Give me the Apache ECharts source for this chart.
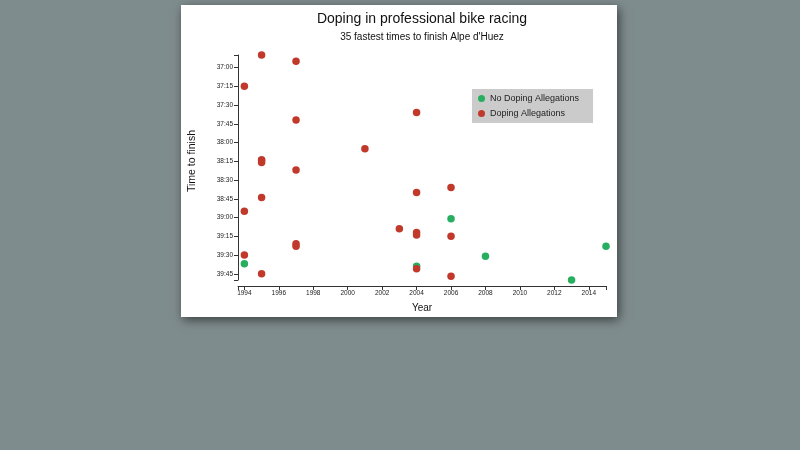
<!DOCTYPE html>
<html>
<head>
<meta charset="utf-8">
<title>Doping in professional bike racing</title>
<script src="https://cdn.jsdelivr.net/npm/echarts@6/dist/echarts.min.js"></script>
<style>
    html, body {
        margin: 0;
        padding: 0;
        width: 800px;
        height: 450px;
        background: #7f8c8d;
        overflow: hidden;
    }
    #card {
        position: absolute;
        left: 181px;
        top: 5px;
        width: 436px;
        height: 312px;
        background: #fff;
        box-shadow: 2px 3px 10px rgba(0, 0, 0, 0.55);
    }
</style>
</head>
<body>
<div id="card"></div>

<script>
// Data
// ------------------------------

// Riders without doping allegations
var cleanYears   = [2006, 2015, 2008, 1994, 2004, 2013];
var cleanSeconds = [2341, 2363, 2371, 2377, 2379, 2390];

// Riders with doping allegations
var dopedYears   = [1995, 1997, 1994, 2004, 1997, 2001, 1995, 1995, 1995, 1997,
                    2006, 2004, 1995, 1994, 2003, 2004, 2004, 2006, 1997, 1997,
                    1994, 2004, 1995, 2006];
var dopedSeconds = [2210, 2215, 2235, 2256, 2262, 2285, 2294, 2294, 2296, 2302,
                    2316, 2320, 2324, 2335, 2349, 2352, 2354, 2355, 2361, 2363,
                    2370, 2381, 2385, 2387];

// Axis ticks
var yearTicks = [1994, 1996, 1998, 2000, 2002, 2004, 2006, 2008, 2010, 2012, 2014];
var timeTicks = [2220, 2235, 2250, 2265, 2280, 2295, 2310, 2325, 2340, 2355, 2370, 2385];

var seriesNames = ['No Doping Allegations', 'Doping Allegations'];


// Helpers
// ------------------------------

var pair = function(xs, ys) {
    return xs.map(function(x, i) { return [x, ys[i]]; });
};

var toClock = function(s) {
    var m = Math.floor(s / 60);
    var sec = s % 60;
    return m + ':' + (sec < 10 ? '0' : '') + sec;
};

var font = 'Liberation Sans, Arial, sans-serif';


// Chart options
// ------------------------------

var option = {

    animation: false,
    color: ['#27ae60', '#c0392b'],

    textStyle: {
        fontFamily: font
    },

    // Plot area
    grid: {
        left: 57,
        right: 11,
        top: 50,
        bottom: 37
    },

    // Titles and axis names
    graphic: [
        {
            type: 'text', x: 241, y: 14,
            style: { text: 'Doping in professional bike racing', font: '14px ' + font, fill: '#111', textAlign: 'center', textVerticalAlign: 'middle' }
        },
        {
            type: 'text', x: 241, y: 32,
            style: { text: "35 fastest times to finish Alpe d'Huez", font: '10px ' + font, fill: '#111', textAlign: 'center', textVerticalAlign: 'middle' }
        },
        {
            type: 'text', x: 11, y: 156, rotation: Math.PI / 2,
            style: { text: 'Time to finish', font: '10.5px ' + font, fill: '#111', textAlign: 'center', textVerticalAlign: 'middle' }
        },
        {
            type: 'text', x: 241, y: 303,
            style: { text: 'Year', font: '10px ' + font, fill: '#111', textAlign: 'center', textVerticalAlign: 'middle' }
        }
    ],

    // Legend
    legend: {
        data: seriesNames,
        orient: 'vertical',
        left: 291,
        top: 84,
        icon: 'circle',
        itemWidth: 7,
        itemHeight: 7,
        itemGap: 6,
        padding: [5, 14, 5, 6],
        backgroundColor: '#cbcbcb',
        textStyle: {
            fontSize: 9,
            color: '#222'
        }
    },

    // Horizontal axis
    xAxis: {
        type: 'value',
        min: 1993.63,
        max: 2015,
        offset: 6,
        axisLine: {
            onZero: false,
            lineStyle: { color: '#333', width: 1 }
        },
        axisTick: {
            length: 4,
            customValues: [1993.63].concat(yearTicks, [2015]),
            lineStyle: { color: '#333' }
        },
        axisLabel: {
            customValues: yearTicks,
            formatter: function(v) { return String(v); },
            fontSize: 6.5,
            color: '#222',
            margin: 4
        },
        splitLine: { show: false }
    },

    // Vertical axis
    yAxis: {
        type: 'value',
        inverse: true,
        min: 2210,
        max: 2390,
        axisLine: {
            show: true,
            onZero: false,
            lineStyle: { color: '#333', width: 1 }
        },
        axisTick: {
            show: true,
            length: 4,
            customValues: [2210].concat(timeTicks, [2390]),
            lineStyle: { color: '#333' }
        },
        axisLabel: {
            customValues: timeTicks,
            formatter: function(v) { return toClock(v); },
            fontSize: 6.5,
            color: '#222',
            margin: 5
        },
        splitLine: { show: false }
    },

    // Series
    series: [
        {
            name: seriesNames[0],
            type: 'scatter',
            symbolSize: 7.5,
            itemStyle: { opacity: 1 },
            data: pair(cleanYears, cleanSeconds)
        },
        {
            name: seriesNames[1],
            type: 'scatter',
            symbolSize: 7.5,
            itemStyle: { opacity: 1 },
            data: pair(dopedYears, dopedSeconds)
        }
    ]
};


// Initialize
// ------------------------------

var chart = echarts.init(document.getElementById('card'));
chart.setOption(option);
</script>
</body>
</html>
